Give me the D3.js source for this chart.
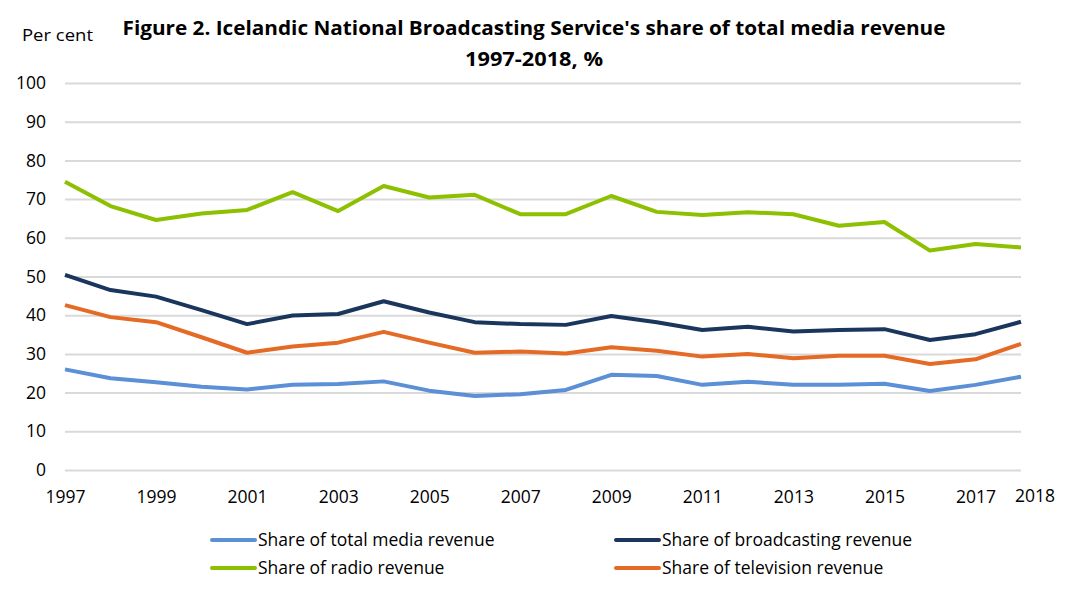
<!DOCTYPE html>
<html>
<head>
<meta charset="utf-8">
<script src="https://cdn.jsdelivr.net/npm/d3@7"></script>
<style>
  body { margin: 0; background: #fff; }
  text { font-family: "Open Sans", sans-serif; fill: #000; }
</style>
</head>
<body>
<div id="canvas"></div>
<script>
const years = d3.range(1997, 2019);
const totalMedia = [26.0, 23.7, 22.7, 21.5, 20.8, 22.0, 22.2, 22.9, 20.5, 19.1, 19.6,
  20.7, 24.6, 24.3, 22.0, 22.8, 22.0, 22.0, 22.3, 20.4, 22.0, 24.1];
const broadcasting = [50.4, 46.5, 44.8, 41.3, 37.7, 39.9, 40.3, 43.6, 40.7, 38.2, 37.7,
  37.5, 39.8, 38.2, 36.2, 37.0, 35.8, 36.2, 36.4, 33.6, 35.1, 38.3];
const radio = [74.5, 68.2, 64.6, 66.3, 67.2, 71.8, 66.9, 73.4, 70.4, 71.1, 66.1,
  66.1, 70.8, 66.7, 65.9, 66.6, 66.1, 63.1, 64.1, 56.7, 58.4, 57.5];
const television = [42.6, 39.5, 38.2, 34.3, 30.3, 31.9, 32.9, 35.7, 32.9, 30.3, 30.6,
  30.1, 31.7, 30.8, 29.3, 30.0, 28.9, 29.5, 29.5, 27.4, 28.6, 32.6];
const xTicks = [1997, 1999, 2001, 2003, 2005, 2007, 2009, 2011, 2013, 2015, 2017];
const yTicks = [0, 10, 20, 30, 40, 50, 60, 70, 80, 90, 100];

const series = [
  { name: 'Share of total media revenue', values: totalMedia, color: '#5b8fd6' },
  { name: 'Share of broadcasting revenue', values: broadcasting, color: '#1b365d' },
  { name: 'Share of radio revenue', values: radio, color: '#8cc000' },
  { name: 'Share of television revenue', values: television, color: '#e46a26' },
];

const width = 1080;
const height = 591;
const margin = { top: 83, right: 59, bottom: 121, left: 65 };
const graphWidth = width - margin.left - margin.right;
const graphHeight = height - margin.top - margin.bottom;

const svg = d3.select('#canvas')
  .append('svg')
  .attr('width', width)
  .attr('height', height);

const graph = svg.append('g')
  .attr('transform', `translate(${margin.left}, ${margin.top})`);

const xScale = d3.scaleLinear().domain([1997, 2018]).range([0, graphWidth]);
const yScale = d3.scaleLinear().domain([0, 100]).range([graphHeight, 0]);

// gridlines + y labels
const yAxis = d3.axisLeft(yScale)
  .tickValues(yTicks)
  .tickSize(-graphWidth)
  .tickPadding(19);
graph.append('g')
  .call(yAxis)
  .call(g => g.select('.domain').remove())
  .call(g => g.selectAll('line').attr('stroke', '#d9d9d9').attr('stroke-width', 2))
  .call(g => g.selectAll('text')
    .attr('font-family', '"Open Sans", sans-serif')
    .attr('font-size', 17.5)
    .attr('fill', '#000'));

// x labels
const xAxis = d3.axisBottom(xScale)
  .tickValues(xTicks)
  .tickFormat(d3.format('d'))
  .tickSize(0)
  .tickPadding(21);
graph.append('g')
  .attr('transform', `translate(0, ${graphHeight})`)
  .call(xAxis)
  .call(g => g.select('.domain').remove())
  .call(g => g.selectAll('text')
    .attr('font-family', '"Open Sans", sans-serif')
    .attr('font-size', 17.5)
    .attr('fill', '#000'));

// the lone last-year label sits a little to the right and higher
graph.append('text')
  .attr('x', xScale(2018) + 14)
  .attr('y', graphHeight + 32)
  .attr('text-anchor', 'middle')
  .attr('font-size', 17.5)
  .text('2018');

const line = d3.line()
  .x((d, i) => xScale(years[i]))
  .y(d => yScale(d));

graph.selectAll('path.series')
  .data(series)
  .enter()
  .append('path')
  .attr('class', 'series')
  .attr('d', d => line(d.values))
  .attr('fill', 'none')
  .attr('stroke', d => d.color)
  .attr('stroke-width', 4)
  .attr('stroke-linejoin', 'round');

// legend
const legendPos = [[212, 540], [616, 540], [212, 568], [616, 568]];
const legend = svg.selectAll('g.legend')
  .data(series)
  .enter()
  .append('g')
  .attr('class', 'legend')
  .attr('transform', (d, i) => `translate(${legendPos[i][0]}, ${legendPos[i][1]})`);
legend.append('line')
  .attr('x1', 0).attr('x2', 43)
  .attr('stroke', d => d.color)
  .attr('stroke-width', 4)
  .attr('stroke-linecap', 'round');
legend.append('text')
  .attr('x', 46)
  .attr('dy', '0.35em')
  .attr('font-size', 17.5)
  .text(d => d.name);

// titles
svg.append('text')
  .attr('x', 22).attr('y', 41)
  .attr('font-size', 16.5)
  .attr('textLength', 71)
  .attr('lengthAdjust', 'spacingAndGlyphs')
  .text('Per cent');
svg.append('text')
  .attr('x', 534).attr('y', 35)
  .attr('text-anchor', 'middle')
  .attr('font-weight', 'bold')
  .attr('font-size', 19.5)
  .attr('textLength', 823)
  .attr('lengthAdjust', 'spacingAndGlyphs')
  .text("Figure 2. Icelandic National Broadcasting Service's share of total media revenue");
svg.append('text')
  .attr('x', 534).attr('y', 66)
  .attr('text-anchor', 'middle')
  .attr('font-weight', 'bold')
  .attr('font-size', 19.5)
  .attr('textLength', 138)
  .attr('lengthAdjust', 'spacingAndGlyphs')
  .text('1997-2018, %');
</script>
</body>
</html>
